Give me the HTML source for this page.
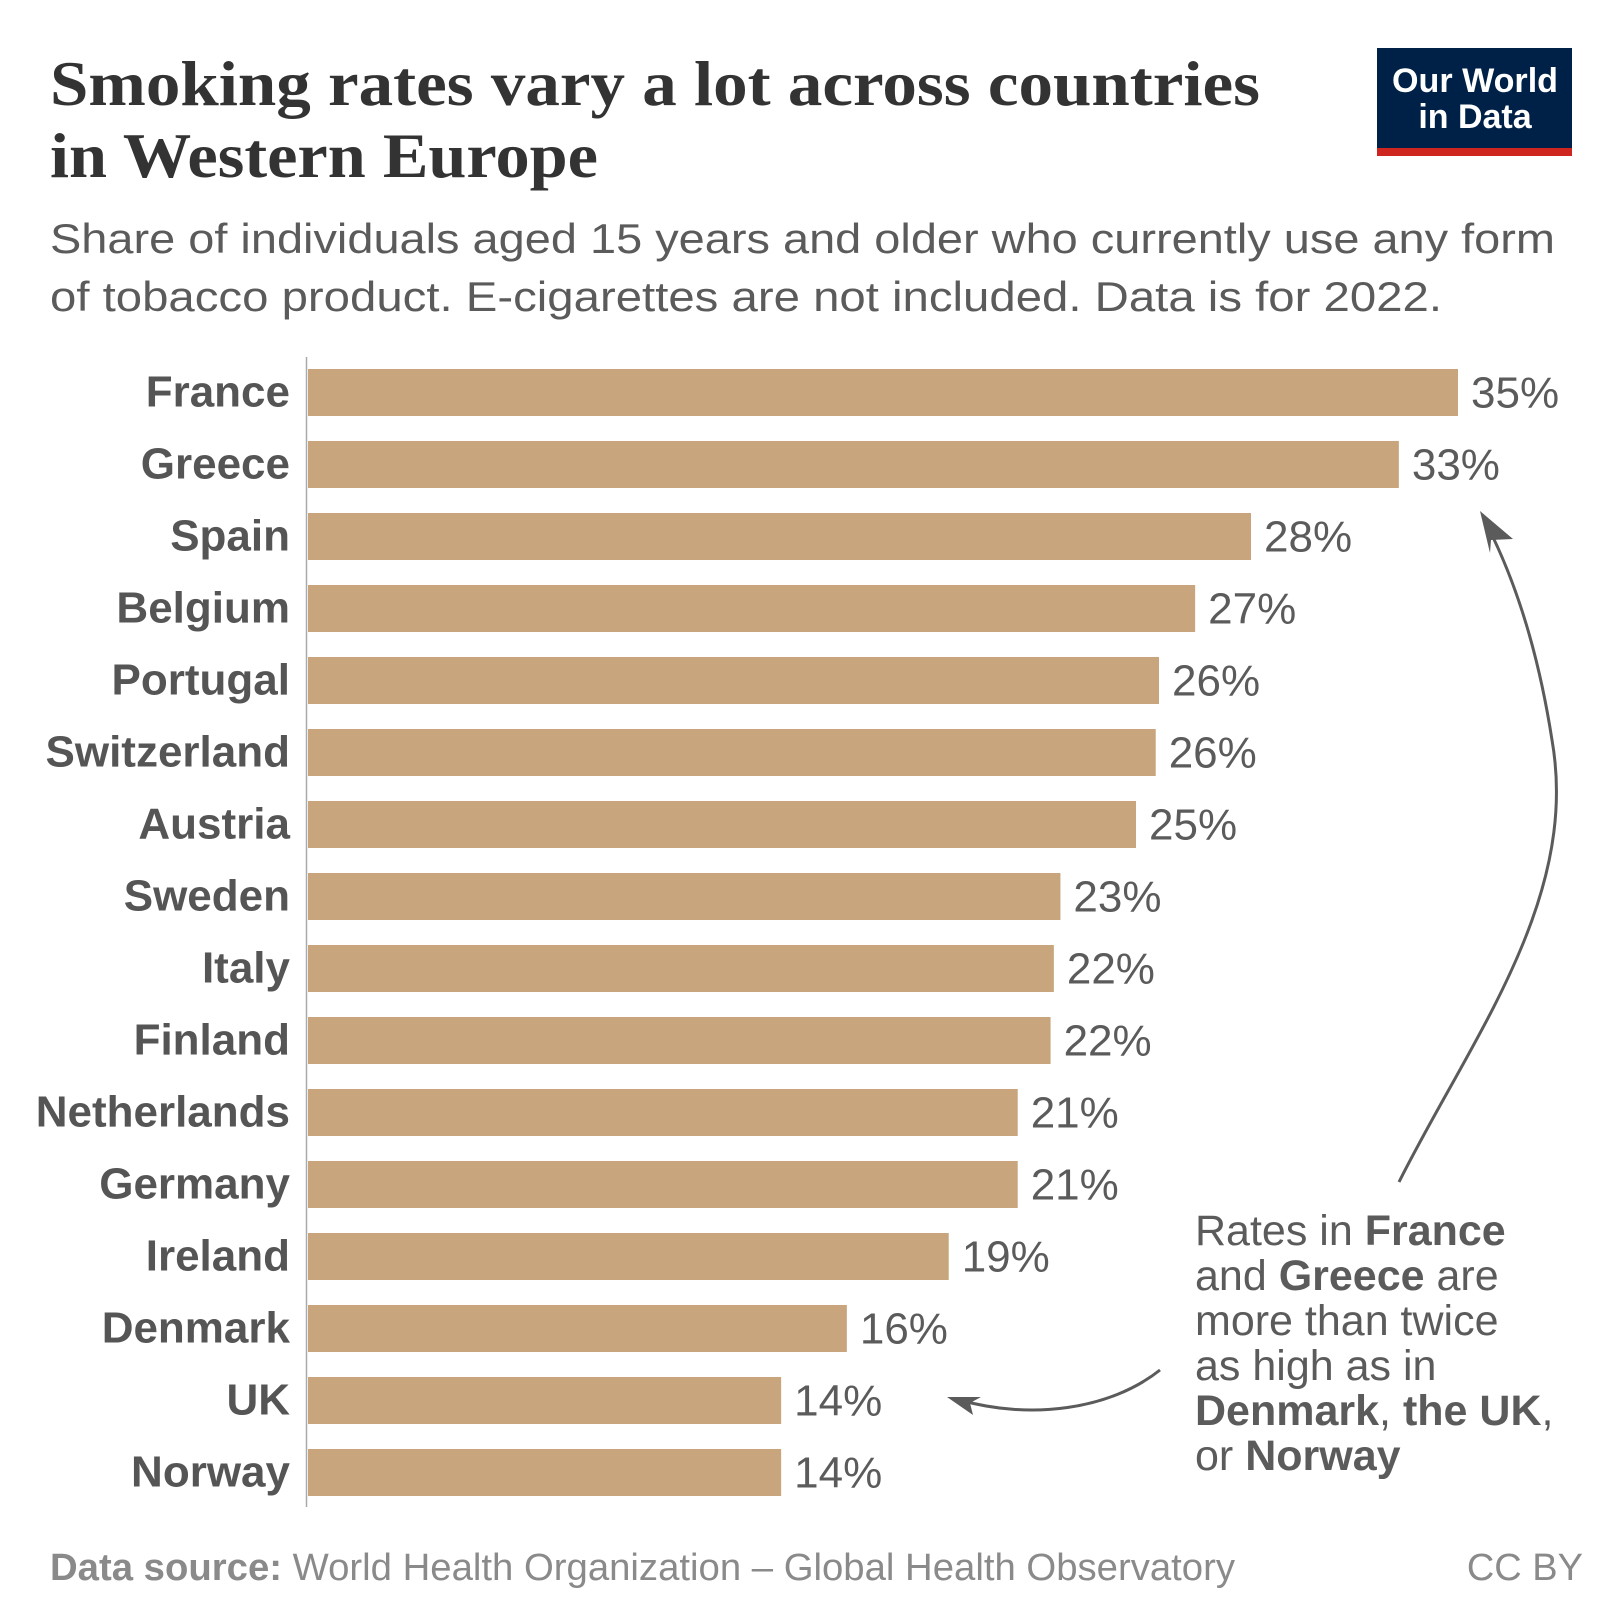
<!DOCTYPE html>
<html><head><meta charset="utf-8"><style>
html,body{margin:0;padding:0;background:#fff}
svg{display:block}
text{font-family:"Liberation Sans",sans-serif}
</style></head><body>
<svg id="chart" width="1620" height="1620" viewBox="0 0 1620 1620" xmlns="http://www.w3.org/2000/svg">
<g font-family="Liberation Serif, serif" font-weight="bold" fill="#333" font-size="64">
<text x="50" y="105" textLength="1210" lengthAdjust="spacingAndGlyphs" style="font-family:'Liberation Serif',serif">Smoking rates vary a lot across countries</text>
<text x="50" y="177" textLength="548" lengthAdjust="spacingAndGlyphs" style="font-family:'Liberation Serif',serif">in Western Europe</text>
</g>
<g fill="#5b5b5b" font-size="42">
<text x="50" y="253" textLength="1505" lengthAdjust="spacingAndGlyphs">Share of individuals aged 15 years and older who currently use any form</text>
<text x="50" y="311" textLength="1392" lengthAdjust="spacingAndGlyphs">of tobacco product. E-cigarettes are not included. Data is for 2022.</text>
</g>
<g>
<rect x="1377" y="48" width="195" height="101" fill="#002147"/>
<rect x="1377" y="148" width="195" height="8" fill="#ce261e"/>
<text x="1475" y="92" text-anchor="middle" fill="#fff" font-size="34" font-weight="bold" textLength="166" lengthAdjust="spacingAndGlyphs">Our World</text>
<text x="1475" y="128" text-anchor="middle" fill="#fff" font-size="34" font-weight="bold">in Data</text>
</g>
<line x1="306.5" y1="357" x2="306.5" y2="1507" stroke="#aaa" stroke-width="1.5"/>
<g id="bars"></g>
<g fill="#5b5b5b" font-size="43">
<text x="1195" y="1245">Rates in <tspan font-weight="bold">France</tspan></text>
<text x="1195" y="1290">and <tspan font-weight="bold">Greece</tspan> are</text>
<text x="1195" y="1335">more than twice</text>
<text x="1195" y="1380">as high as in</text>
<text x="1195" y="1425"><tspan font-weight="bold">Denmark</tspan>, <tspan font-weight="bold">the UK</tspan>,</text>
<text x="1195" y="1470">or <tspan font-weight="bold">Norway</tspan></text>
</g>
<g>
<path d="M1399 1182 C1470 1040 1580 900 1552 740 C1538 650 1515 580 1487 525" fill="none" stroke="#5b5b5b" stroke-width="3"/>
<path d="M1480 511 L1513 539 L1491 540 L1490 553 Z" fill="#5b5b5b"/>
</g>
<g>
<path d="M1160 1370 C1110 1410 1030 1420 960 1400" fill="none" stroke="#5b5b5b" stroke-width="3"/>
<path d="M947 1397 L981 1397 L970 1403 L973 1415 Z" fill="#5b5b5b"/>
</g>
<g font-size="38" fill="#8a8a8a">
<text x="50" y="1580" textLength="1185" lengthAdjust="spacingAndGlyphs"><tspan font-weight="bold">Data source:</tspan> World Health Organization – Global Health Observatory</text>
<text x="1583" y="1580" text-anchor="end">CC BY</text>
</g>
</svg>
<script>
const countries=["France","Greece","Spain","Belgium","Portugal","Switzerland","Austria","Sweden","Italy","Finland","Netherlands","Germany","Ireland","Denmark","UK","Norway"];
const values=[35.0,33.2,28.7,27.0,25.9,25.8,25.2,22.9,22.7,22.6,21.6,21.6,19.5,16.4,14.4,14.4];
const valueLabels=["35%","33%","28%","27%","26%","26%","25%","23%","22%","22%","21%","21%","19%","16%","14%","14%"];
const NS="http://www.w3.org/2000/svg";
const x0=308, pxPerUnit=1150/35;
function xScale(v){return x0+v*pxPerUnit;}
function yCenter(i){return 392.5+i*72;}
const g=document.getElementById('bars');
countries.forEach((c,i)=>{
  const r=document.createElementNS(NS,'rect');
  r.setAttribute('x',x0);
  r.setAttribute('y',yCenter(i)-23.5);
  r.setAttribute('width',xScale(values[i])-x0);
  r.setAttribute('height',47);
  r.setAttribute('fill','#c8a57c');
  
  
  g.appendChild(r);
  const t=document.createElementNS(NS,'text');
  t.setAttribute('x',290);
  t.setAttribute('y',yCenter(i)+14);
  t.setAttribute('text-anchor','end');
  t.setAttribute('font-size','44');
  t.setAttribute('font-weight','bold');
  t.setAttribute('fill','#555');
  t.textContent=c;
  
  
  g.appendChild(t);
  const v=document.createElementNS(NS,'text');
  v.setAttribute('x',xScale(values[i])+13);
  v.setAttribute('y',yCenter(i)+15);
  v.setAttribute('font-size','44');
  v.setAttribute('fill','#5b5b5b');
  v.textContent=valueLabels[i];
  
  
  g.appendChild(v);
});
</script>
</body></html>
